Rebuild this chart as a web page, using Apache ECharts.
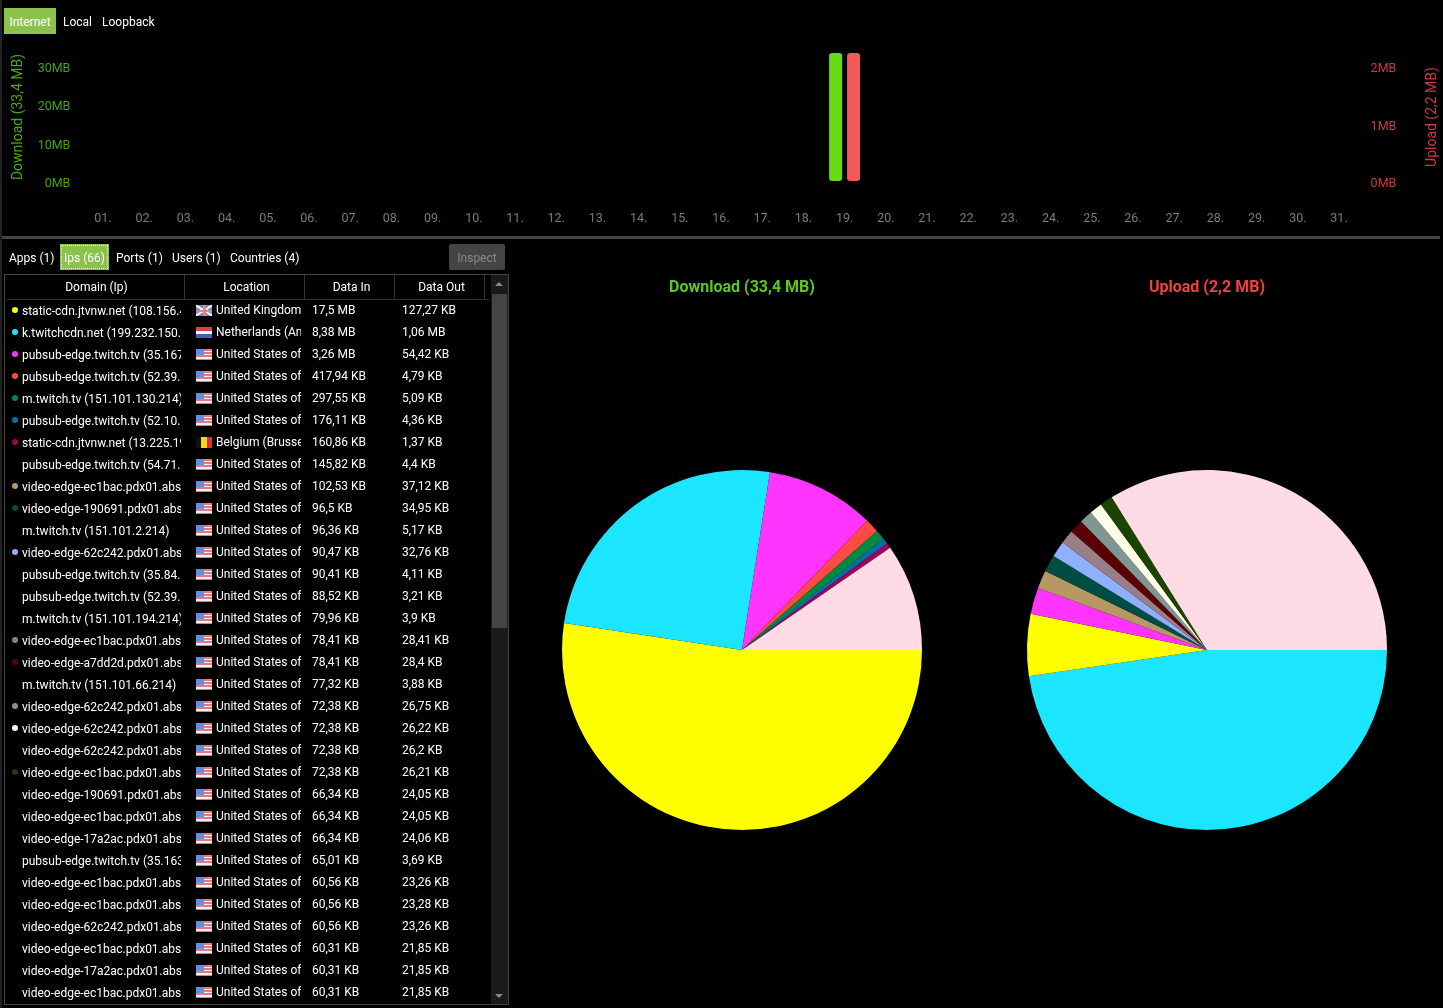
<!DOCTYPE html>
<html>
<head>
<meta charset="utf-8">
<title>Traffic</title>
<script src="https://cdn.jsdelivr.net/npm/echarts@6/dist/echarts.min.js"></script>
<style>
html, body { margin: 0; padding: 0; background: #000; }
body { width: 1443px; height: 1008px; overflow: hidden; position: relative; font-family: Roboto, sans-serif; font-size: 12px; color: #fff; }
#main { position: absolute; left: 0; top: 0; width: 1443px; height: 1008px; }
.edge { position: absolute; left: 0; top: 0; width: 2px; height: 1008px; background: #222; }
.hsplit { position: absolute; left: 2px; top: 236px; width: 1438px; height: 3px; background: #444; }
.lbl { position: absolute; white-space: nowrap; line-height: 16px; }
.btn { position: absolute; background: #8bc34a; text-align: center; line-height: 29px; height: 26px; }
.dotted { outline: 1px dotted #e8f5d0; outline-offset: -2px; }
#inspect { position: absolute; left: 449px; top: 244px; width: 56px; height: 26px; line-height: 28px; background: #444; color: #8a8a8a; text-align: center; border-radius: 2px; }
#table { position: absolute; left: 4px; top: 274px; width: 503px; height: 729px; border: 1px solid #444; overflow: hidden; }
.head { position: absolute; top: 0; height: 24px; line-height: 24px; padding-left: 4px; text-align: center; border-right: 1px solid #333; box-sizing: border-box; }
#headline { position: absolute; left: 2px; top: 24px; width: 482px; height: 1px; background: #333; }
.cell { position: absolute; height: 22px; line-height: 22px; white-space: nowrap; overflow: hidden; }
.dot { position: absolute; width: 6px; height: 6px; border-radius: 50%; }
.flag { position: absolute; width: 16px; height: 11px; }
.us { background: linear-gradient(#6a8ce0, #6a8ce0) 0 0 / 8px 6px no-repeat, repeating-linear-gradient(#e27a7a 0 1.6px, #f5eeee 1.6px 3.2px); }
.nl { background: linear-gradient(#d8414c 0 33%, #f5f5f5 33% 66%, #3f5fb8 66%); }
.be { background: linear-gradient(90deg, #111 0 33%, #f5d90a 33% 66%, #d8303a 66%); }
.uk { background: linear-gradient(#d88 0 0) center / 16px 2px no-repeat, linear-gradient(#d88 0 0) center / 3px 11px no-repeat, linear-gradient(32deg, transparent 44%, #eee 44% 56%, transparent 56%), linear-gradient(-32deg, transparent 44%, #eee 44% 56%, transparent 56%), #7a88c8; }
#scroll { position: absolute; left: 486px; top: 0; width: 17px; height: 729px; background: #1a1a1a; }
#thumb { position: absolute; left: 1px; top: 19px; width: 15px; height: 334px; background: #444; }
.arrow { position: absolute; left: 4px; width: 0; height: 0; border-left: 4px solid transparent; border-right: 4px solid transparent; }
</style>
</head>
<body>
<div id="main"></div>
<div class="edge"></div>
<div class="hsplit"></div>
<div class="btn" style="left:4px;top:8px;width:52px">Internet</div>
<div class="lbl" style="left:63px;top:14px">Local</div>
<div class="lbl" style="left:102px;top:14px">Loopback</div>
<div class="lbl" style="left:9px;top:250px">Apps (1)</div>
<div class="btn dotted" style="left:60px;top:244px;width:49px">Ips (66)</div>
<div class="lbl" style="left:116px;top:250px">Ports (1)</div>
<div class="lbl" style="left:172px;top:250px">Users (1)</div>
<div class="lbl" style="left:230px;top:250px">Countries (4)</div>
<div id="inspect">Inspect</div>
<div id="table"></div>
<script>
var days = ["01.","02.","03.","04.","05.","06.","07.","08.","09.","10.","11.","12.","13.","14.","15.","16.","17.","18.","19.","20.","21.","22.","23.","24.","25.","26.","27.","28.","29.","30.","31."];
var downloadMb = [null,null,null,null,null,null,null,null,null,null,null,null,null,null,null,null,null,null,33.4,null,null,null,null,null,null,null,null,null,null,null,null];
var uploadMb = [null,null,null,null,null,null,null,null,null,null,null,null,null,null,null,null,null,null,2.23,null,null,null,null,null,null,null,null,null,null,null,null];

// pie slices, KB
var downloadSlices = [17500, 8380, 3260, 417.94, 297.55, 176.11, 160.86, 3208];
var downloadColors = ["#ffff00", "#1ce6ff", "#ff34ff", "#ff4a46", "#008941", "#006fa6", "#a30059", "#ffdbe5"];
var uploadSlices = [1092, 127.27, 54.42, 37.12, 34.95, 32.76, 28.41, 28.4, 26.75, 26.22, 26.21, 776];
var uploadColors = ["#1ce6ff", "#ffff00", "#ff34ff", "#b79762", "#004d43", "#8fb0ff", "#997d87", "#5a0007", "#809693", "#feffe6", "#1b4400", "#ffdbe5"];

var domains = ["static-cdn.jtvnw.net (108.156.4","k.twitchcdn.net (199.232.150.1","pubsub-edge.twitch.tv (35.167","pubsub-edge.twitch.tv (52.39.","m.twitch.tv (151.101.130.214)","pubsub-edge.twitch.tv (52.10.","static-cdn.jtvnw.net (13.225.19","pubsub-edge.twitch.tv (54.71.","video-edge-ec1bac.pdx01.abs","video-edge-190691.pdx01.abs","m.twitch.tv (151.101.2.214)","video-edge-62c242.pdx01.abs","pubsub-edge.twitch.tv (35.84.","pubsub-edge.twitch.tv (52.39.","m.twitch.tv (151.101.194.214)","video-edge-ec1bac.pdx01.abs","video-edge-a7dd2d.pdx01.abs","m.twitch.tv (151.101.66.214)","video-edge-62c242.pdx01.abs","video-edge-62c242.pdx01.abs","video-edge-62c242.pdx01.abs","video-edge-ec1bac.pdx01.abs","video-edge-190691.pdx01.abs","video-edge-ec1bac.pdx01.abs","video-edge-17a2ac.pdx01.abs","pubsub-edge.twitch.tv (35.163","video-edge-ec1bac.pdx01.abs","video-edge-ec1bac.pdx01.abs","video-edge-62c242.pdx01.abs","video-edge-ec1bac.pdx01.abs","video-edge-17a2ac.pdx01.abs","video-edge-ec1bac.pdx01.abs"];
var dotColors = ["#ffff00","#1ce6ff","#ff34ff","#ff4a46","#008941","#006fa6","#a30059","","#b79762","#004d43","","#8fb0ff","","","","#997d87","#5a0007","","#809693","#feffe6","","#1b4400","","","","","","","","","",""];
var locations = ["United Kingdom","Netherlands (An","United States of","United States of","United States of","United States of","Belgium (Brusse","United States of","United States of","United States of","United States of","United States of","United States of","United States of","United States of","United States of","United States of","United States of","United States of","United States of","United States of","United States of","United States of","United States of","United States of","United States of","United States of","United States of","United States of","United States of","United States of","United States of"];
var flags = ["uk","nl","us","us","us","us","be","us","us","us","us","us","us","us","us","us","us","us","us","us","us","us","us","us","us","us","us","us","us","us","us","us"];
var dataIn = ["17,5 MB","8,38 MB","3,26 MB","417,94 KB","297,55 KB","176,11 KB","160,86 KB","145,82 KB","102,53 KB","96,5 KB","96,36 KB","90,47 KB","90,41 KB","88,52 KB","79,96 KB","78,41 KB","78,41 KB","77,32 KB","72,38 KB","72,38 KB","72,38 KB","72,38 KB","66,34 KB","66,34 KB","66,34 KB","65,01 KB","60,56 KB","60,56 KB","60,56 KB","60,31 KB","60,31 KB","60,31 KB"];
var dataOut = ["127,27 KB","1,06 MB","54,42 KB","4,79 KB","5,09 KB","4,36 KB","1,37 KB","4,4 KB","37,12 KB","34,95 KB","5,17 KB","32,76 KB","4,11 KB","3,21 KB","3,9 KB","28,41 KB","28,4 KB","3,88 KB","26,75 KB","26,22 KB","26,2 KB","26,21 KB","24,05 KB","24,05 KB","24,06 KB","3,69 KB","23,26 KB","23,28 KB","23,26 KB","21,85 KB","21,85 KB","21,85 KB"];

var columns = ["Domain (Ip)", "Location", "Data In", "Data Out"];
var columnEdges = [0, 180, 300, 390, 480];

function buildTable() {
    var table = document.getElementById("table");
    var html = "";
    columns.forEach(function (col, i) {
        html += '<div class="head" style="left:' + columnEdges[i] + 'px;width:' + (columnEdges[i + 1] - columnEdges[i]) + 'px">' + col + '</div>';
    });
    html += '<div id="headline"></div>';
    domains.forEach(function (domain, i) {
        var y = 25 + i * 22;
        if (dotColors[i]) {
            html += '<div class="dot" style="left:7px;top:' + (y + 7) + 'px;background:' + dotColors[i] + '"></div>';
        }
        html += '<div class="cell" style="left:17px;top:' + y + 'px;width:159px">' + domain + '</div>';
        html += '<div class="flag ' + flags[i] + '" style="left:191px;top:' + (y + 5) + 'px"></div>';
        html += '<div class="cell" style="left:211px;top:' + (y - 1) + 'px;width:85px">' + locations[i] + '</div>';
        html += '<div class="cell" style="left:307px;top:' + (y - 1) + 'px">' + dataIn[i] + '</div>';
        html += '<div class="cell" style="left:397px;top:' + (y - 1) + 'px">' + dataOut[i] + '</div>';
    });
    html += '<div id="scroll"><div id="thumb"></div>' +
        '<div class="arrow" style="top:7px;border-bottom:4px solid #888"></div>' +
        '<div class="arrow" style="top:719px;border-top:4px solid #888"></div></div>';
    table.innerHTML = html;
}
buildTable();

function toPieData(values, colors) {
    return values.map(function (v, i) {
        return { value: v, itemStyle: { color: colors[i] } };
    });
}

var fontName = "Roboto";
var myChart = echarts.init(document.getElementById("main"));
var option = {
    backgroundColor: "#000",
    animation: false,
    title: [
        { text: "Download (33,4 MB)", left: 742, top: 279.5, padding: 0, textAlign: "center", textStyle: { color: "#5cc81e", fontSize: 16, fontWeight: "bold", fontFamily: fontName } },
        { text: "Upload (2,2 MB)", left: 1207, top: 279.5, padding: 0, textAlign: "center", textStyle: { color: "#f04040", fontSize: 16, fontWeight: "bold", fontFamily: fontName } }
    ],
    grid: { left: 82.4, top: 53, width: 1277.2, height: 128, outerBoundsMode: "none" },
    xAxis: {
        type: "category",
        data: days,
        axisLine: { show: false },
        axisTick: { show: false },
        axisLabel: { interval: 0, color: "#7a7a7a", fontSize: 12.5, fontFamily: fontName, margin: 31 }
    },
    yAxis: [
        {
            type: "value", min: 0, max: 33.4, interval: 10,
            name: "Download (33,4 MB)", nameLocation: "middle", nameGap: 57,
            nameTextStyle: { color: "#4aa813", fontSize: 14, fontFamily: fontName },
            splitLine: { show: false }, axisLine: { show: false }, axisTick: { show: false },
            axisLabel: { color: "#42a30f", fontSize: 12.5, fontFamily: fontName, margin: 12, verticalAlign: "top", lineHeight: 6, showMaxLabel: false, formatter: "{value}MB" }
        },
        {
            type: "value", min: 0, max: 2.23, interval: 1, position: "right",
            name: "Upload (2,2 MB)", nameLocation: "middle", nameGap: 66, nameRotate: 90,
            nameTextStyle: { color: "#c83c3c", fontSize: 14, fontFamily: fontName },
            splitLine: { show: false }, axisLine: { show: false }, axisTick: { show: false },
            axisLabel: { color: "#c83c3c", fontSize: 12.5, fontFamily: fontName, margin: 11, verticalAlign: "top", lineHeight: 6, showMaxLabel: false, formatter: "{value}MB" }
        }
    ],
    series: [
        { type: "bar", yAxisIndex: 0, data: downloadMb, barWidth: 13, barGap: "38%", silent: true, itemStyle: { color: "#66dd11", borderRadius: 3 } },
        { type: "bar", yAxisIndex: 1, data: uploadMb, barWidth: 13, barGap: "38%", silent: true, itemStyle: { color: "#f55a5a", borderRadius: 3 } },
        { type: "pie", center: [742, 650], radius: [0, 180], startAngle: 0, silent: true, label: { show: false }, labelLine: { show: false }, data: toPieData(downloadSlices, downloadColors) },
        { type: "pie", center: [1207, 650], radius: [0, 180], startAngle: 0, silent: true, label: { show: false }, labelLine: { show: false }, data: toPieData(uploadSlices, uploadColors) }
    ]
};
myChart.setOption(option);
</script>
</body>
</html>
